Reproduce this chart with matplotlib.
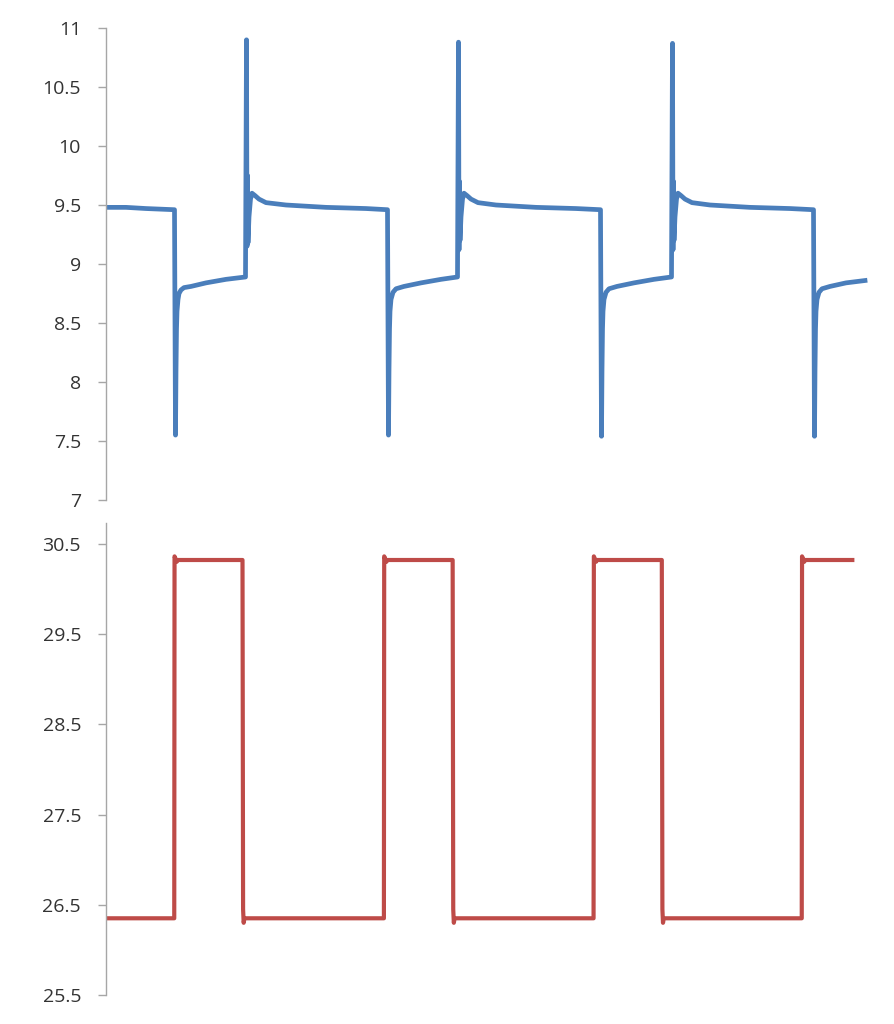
import matplotlib
matplotlib.use("Agg")
import matplotlib.pyplot as plt

# time axis in arbitrary sample units
t_blue = [0, 20, 40, 68.5,
          69.5, 70, 70.5, 71, 72, 73, 75, 78, 85, 100, 120, 139.5,
          140.5, 141, 141.5, 142, 143, 144.5, 146, 149, 153, 160, 180, 220, 260, 281.5,
          282.5, 283, 283.5, 284, 285, 287, 290, 298, 315, 335, 351.5,
          352.5, 353, 353.5, 354, 355, 356.5, 358, 361, 365, 372, 390, 430, 470, 494.5,
          495.5, 496, 496.5, 497, 498, 500, 503, 511, 528, 548, 565.5,
          566.5, 567, 567.5, 568, 569, 570.5, 572, 575, 579, 586, 604, 644, 684, 707.5,
          708.5, 709, 709.5, 710, 711, 713, 716, 724, 740, 759]
v_blue = [9.48, 9.48, 9.47, 9.46,
          7.55, 8.10, 8.45, 8.60, 8.70, 8.75, 8.78, 8.80, 8.81, 8.84, 8.87, 8.89,
          10.90, 9.15, 9.75, 9.18, 9.40, 9.55, 9.60, 9.58, 9.55, 9.52, 9.50, 9.48, 9.47, 9.46,
          7.55, 8.10, 8.45, 8.60, 8.70, 8.76, 8.79, 8.81, 8.84, 8.87, 8.89,
          10.88, 9.12, 9.70, 9.20, 9.40, 9.55, 9.60, 9.58, 9.55, 9.52, 9.50, 9.48, 9.47, 9.46,
          7.54, 8.10, 8.45, 8.60, 8.70, 8.76, 8.79, 8.81, 8.84, 8.87, 8.89,
          10.87, 9.12, 9.70, 9.20, 9.40, 9.55, 9.60, 9.58, 9.55, 9.52, 9.50, 9.48, 9.47, 9.46,
          7.54, 8.10, 8.45, 8.60, 8.70, 8.76, 8.79, 8.81, 8.84, 8.86]

t_red = [0, 69.5,
         69.8, 71, 72, 73, 139, 139.6, 140.2, 141,
         283, 283.3, 284.5, 285.5, 286.5, 353, 353.6, 354.2, 355,
         496.5, 496.8, 498, 499, 500, 566, 566.6, 567.2, 568,
         708.5, 708.8, 710, 711, 712, 760]
v_red = [26.35, 26.35,
         30.36, 30.33, 30.30, 30.32, 30.32, 26.45, 26.30, 26.35,
         26.35, 30.36, 30.33, 30.30, 30.32, 30.32, 26.45, 26.30, 26.35,
         26.35, 30.36, 30.33, 30.30, 30.32, 30.32, 26.45, 26.30, 26.35,
         26.35, 30.36, 30.33, 30.30, 30.32, 30.32]

blue_ticks = [7, 7.5, 8, 8.5, 9, 9.5, 10, 10.5, 11]
red_ticks = [25.5, 26.5, 27.5, 28.5, 29.5, 30.5]

plt.rcParams['font.family'] = ['Open Sans', 'DejaVu Sans']

fig = plt.figure(figsize=(8.94, 10.24), dpi=100)
ax1 = fig.add_axes([106 / 894, 1 - 500 / 1024, 774 / 894, 472 / 1024])
ax2 = fig.add_axes([106 / 894, 1 - 995 / 1024, 774 / 894, 472 / 1024])

ax1.plot(t_blue, v_blue, color='#4a7ebb', lw=3.4, solid_joinstyle='round')
ax2.plot(t_red, v_red, color='#be4b48', lw=3.0, solid_joinstyle='round')

ax1.set_xlim(0, 774)
ax1.set_ylim(7, 11)
ax1.set_yticks(blue_ticks)
ax1.set_yticklabels(['7', '7.5', '8', '8.5', '9', '9.5', '10', '10.5', '11'])

# bottom trace was drawn on a slightly narrower time scale
ax2.set_xlim(0, 774 / 0.982)
ax2.set_ylim(25.5, 30.73)
ax2.set_yticks(red_ticks)
ax2.set_yticklabels(['25.5', '26.5', '27.5', '28.5', '29.5', '30.5'])

for ax in (ax1, ax2):
    for s in ('top', 'right', 'bottom'):
        ax.spines[s].set_visible(False)
    ax.spines['left'].set_color('#a6a6a6')
    ax.spines['left'].set_linewidth(1.0)
    ax.set_xticks([])
    ax.tick_params(axis='y', direction='out', length=6, width=1.0, color='#a6a6a6',
                   labelsize=14, labelcolor='#333333', pad=12)
    ax.patch.set_alpha(0)

fig.savefig('out.png', dpi=100)
